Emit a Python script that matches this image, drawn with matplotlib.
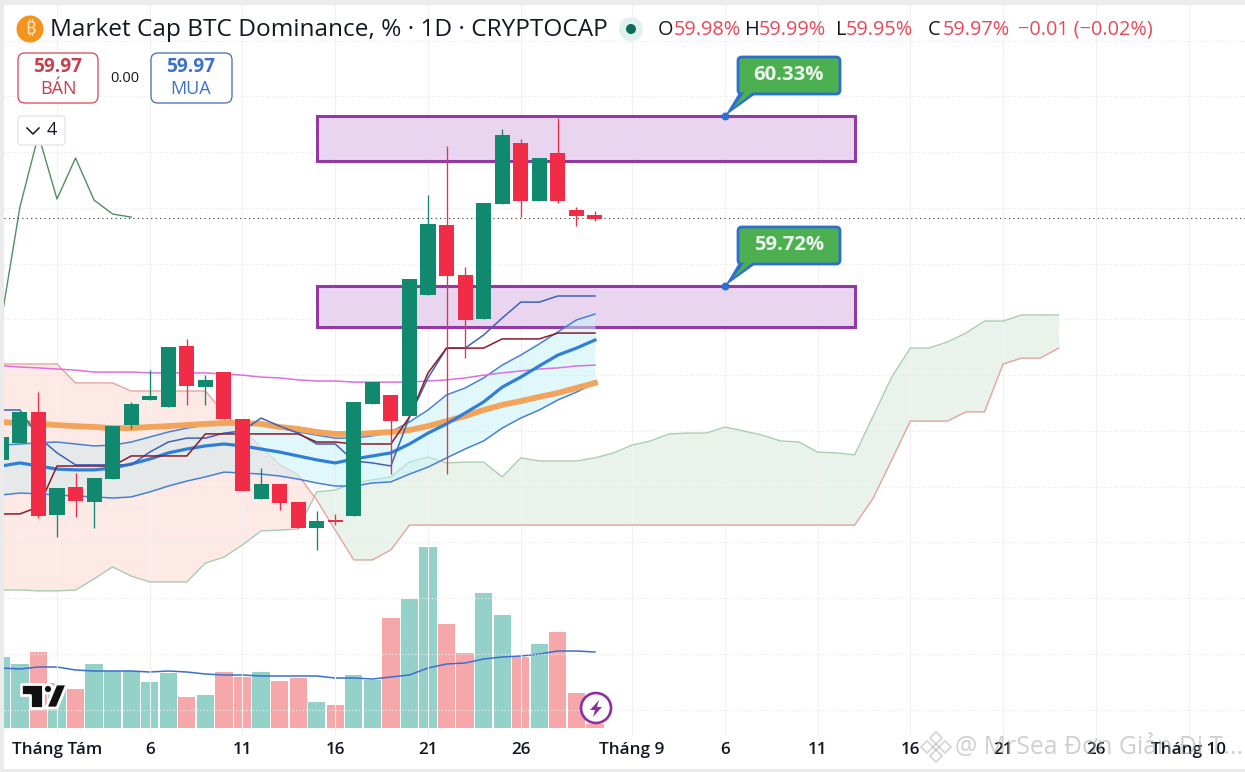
import matplotlib
matplotlib.use("Agg")
import matplotlib.pyplot as plt
from matplotlib.patches import Rectangle, FancyBboxPatch, Circle, Polygon
import numpy as np

W, H = 1245, 772
plt.rcParams["font.family"] = ["Open Sans", "DejaVu Sans"]

# days are counted from 1 August (32 = 1 Sep, 62 = 1 Oct)
days = np.arange(-2, 31)
cloud_days = np.arange(-2, 56)
lag_days = np.arange(-2, 6)

opens = [59.096, 59.157, 59.268, 58.898, 58.999, 58.945, 59.027, 59.221, 59.311, 59.286, 59.505,
         59.357, 59.411, 59.243, 58.956, 59.009, 58.945, 58.852, 58.880, 58.895, 59.296, 59.329,
         59.253, 59.688, 59.939, 59.759, 59.601, 60.014, 60.233, 60.025, 60.197, 59.993, 59.975]
highs = [59.178, 59.268, 59.339, 58.995, 59.049, 59.031, 59.217, 59.304, 59.418, 59.501, 59.530,
         59.400, 59.411, 59.243, 59.067, 59.009, 58.945, 58.913, 58.902, 59.304, 59.375, 59.329,
         59.745, 60.046, 60.222, 59.788, 60.018, 60.283, 60.247, 60.179, 60.323, 60.003, 59.989]
lows = [59.096, 59.157, 58.887, 58.819, 58.891, 58.853, 59.027, 59.207, 59.311, 59.286, 59.293,
        59.293, 59.243, 58.984, 58.956, 58.916, 58.852, 58.773, 58.862, 58.895, 59.296, 59.045,
        59.253, 59.688, 59.045, 59.461, 59.601, 60.014, 59.967, 60.025, 60.018, 59.935, 59.953]
closes = [59.178, 59.268, 58.895, 58.995, 58.948, 59.031, 59.217, 59.296, 59.325, 59.501, 59.361,
          59.383, 59.243, 58.984, 59.009, 58.941, 58.852, 58.877, 58.873, 59.304, 59.375, 59.235,
          59.745, 59.942, 59.756, 59.598, 60.018, 60.262, 60.025, 60.179, 60.025, 59.971, 59.960]

volumes = [71, 64, 76, 45, 39, 64, 57, 57, 46, 55, 31, 33, 56, 51, 56, 47, 50, 26, 23, 53, 48,
           110, 129, 181, 104, 75, 135, 113, 71, 84, 96, 35, 4]
volume_ma = [60, 59, 61, 61, 58, 57, 57, 57, 56, 57, 56, 54, 53, 53, 52, 52, 52, 52, 50, 50, 49,
             51, 53, 60, 64, 65, 69, 71, 72, 74, 77, 77, 76]

bb_upper = [59.149, 59.153, 59.157, 59.160, 59.153, 59.146, 59.149, 59.160, 59.178, 59.196,
            59.210, 59.221, 59.228, 59.232, 59.225, 59.210, 59.196, 59.185, 59.174, 59.174,
            59.182, 59.196, 59.232, 59.275, 59.329, 59.354, 59.390, 59.436, 59.472, 59.512,
            59.555, 59.598, 59.619]
bb_mid = [59.074, 59.085, 59.074, 59.063, 59.060, 59.060, 59.067, 59.081, 59.099, 59.121,
          59.135, 59.146, 59.153, 59.146, 59.135, 59.124, 59.110, 59.096, 59.085, 59.099,
          59.110, 59.121, 59.153, 59.192, 59.225, 59.264, 59.304, 59.357, 59.393, 59.433,
          59.472, 59.497, 59.526]
bb_lower = [58.970, 58.977, 58.974, 58.970, 58.966, 58.963, 58.959, 58.963, 58.981, 59.002,
            59.020, 59.035, 59.052, 59.049, 59.045, 59.038, 59.027, 59.013, 59.002, 59.002,
            59.013, 59.017, 59.045, 59.070, 59.103, 59.135, 59.164, 59.210, 59.246, 59.275,
            59.311, 59.339, 59.372]
ema_slow = [59.232, 59.228, 59.225, 59.221, 59.217, 59.214, 59.210, 59.210, 59.214, 59.217,
            59.221, 59.225, 59.228, 59.228, 59.225, 59.214, 59.207, 59.196, 59.189, 59.189,
            59.192, 59.196, 59.203, 59.217, 59.235, 59.253, 59.275, 59.293, 59.307, 59.322,
            59.336, 59.354, 59.372]
ma_long = [59.434, 59.429, 59.426, 59.422, 59.418, 59.411, 59.411, 59.411, 59.408, 59.408,
           59.408, 59.408, 59.404, 59.400, 59.393, 59.390, 59.383, 59.379, 59.379, 59.375,
           59.375, 59.375, 59.375, 59.379, 59.383, 59.390, 59.400, 59.408, 59.415, 59.422,
           59.426, 59.433, 59.436]
tenkan = [59.275, 59.275, 59.178, 59.121, 59.078, 59.078, 59.078, 59.078, 59.124, 59.160,
          59.174, 59.174, 59.192, 59.200, 59.246, 59.217, 59.192, 59.153, 59.153, 59.092,
          59.085, 59.074, 59.250, 59.390, 59.497, 59.497, 59.544, 59.605, 59.662, 59.662,
          59.684, 59.684, 59.684]
kijun = [58.902, 58.902, 58.927, 59.074, 59.074, 59.074, 59.074, 59.110, 59.110, 59.110,
         59.110, 59.189, 59.189, 59.189, 59.189, 59.189, 59.189, 59.160, 59.160, 59.153,
         59.153, 59.153, 59.250, 59.408, 59.497, 59.497, 59.497, 59.530, 59.530, 59.530,
         59.551, 59.551, 59.551]
lagging = [59.598, 60.003, 60.262, 60.032, 60.179, 60.028, 59.978, 59.967]

span_a = [58.629, 58.629, 58.626, 58.626, 58.629, 58.669, 58.712, 58.679, 58.658, 58.658, 58.658,
          58.726, 58.747, 58.791, 58.841, 58.844, 58.848, 58.981, 58.988, 59.013, 59.024, 59.035,
          59.088, 59.106, 59.085, 59.088, 59.088, 59.035, 59.103, 59.092, 59.092, 59.092, 59.103,
          59.121, 59.149, 59.164, 59.189, 59.192, 59.192, 59.214, 59.200, 59.185, 59.164, 59.160,
          59.124, 59.121, 59.114, 59.253, 59.393, 59.497, 59.497, 59.519, 59.551, 59.594, 59.594,
          59.616, 59.616, 59.616]
span_b = ([59.440] * 4 + [59.372] * 3 + [59.343] * 5
          + [59.264, 59.203, 59.142, 59.078, 59.042, 58.952, 58.844, 58.737, 58.737, 58.773]
          + [58.862] * 25
          + [58.959, 59.096, 59.235, 59.235, 59.235, 59.268, 59.268, 59.440, 59.461, 59.461, 59.497])

zone_tops = [60.33, 59.72]
zone_bottoms = [60.169, 59.573]
zone_start, zone_end = 15, 44
callout_day = 37
last_price = 59.963

tick_days = [1, 6, 11, 16, 21, 26, 32, 37, 42, 47, 52, 57, 62]
tick_labels = ["Tháng Tám", "6", "11", "16", "21", "26", "Tháng 9", "6", "11", "16", "21", "26", "Tháng 10"]
price_grid = np.arange(58.2, 60.8, 0.2)

GREEN, RED = "#10896f", "#f12c46"
VOL_GREEN, VOL_RED = "#93d1c9", "#f6a7a9"

# linear pixel <-> value scales
def day_at(px):
    return 1 + (px - 57) / 18.55

def price_at(py):
    return 60.746 - 0.003588 * py

fig = plt.figure(figsize=(W / 100, H / 100), dpi=100, facecolor="#ebebeb")
left, right, top, bottom = 4, 1245, 5, 735
pos = [left / W, 1 - bottom / H, (right - left) / W, (bottom - top) / H]
fig.add_artist(Rectangle((left / W, 1 - 769 / H), (right - left) / W, 764 / H,
                         transform=fig.transFigure, fc="white", ec="none", zorder=-1))

# volume pane, same frame as the price pane
ax_vol = fig.add_axes(pos, facecolor="white", zorder=1)
ax_vol.set_xlim(day_at(left), day_at(right))
ax_vol.set_ylim(728 - bottom, 728 - top)
vol_colors = [VOL_GREEN if c >= o else VOL_RED for o, c in zip(opens, closes)]
ax_vol.bar(days, volumes, width=0.93, color=vol_colors, zorder=2)
ax_vol.plot(days, volume_ma, color="#3a6fd0", lw=1.1, zorder=3)
ax_vol.axis("off")

ax = fig.add_axes(pos, zorder=2)
ax.patch.set_visible(False)
ax.set_xlim(day_at(left), day_at(right))
ax.set_ylim(price_at(bottom), price_at(top))
for s in ax.spines.values():
    s.set_visible(False)
ax.set_xticks(tick_days, tick_labels)
ax.set_yticks(price_grid)
ax.tick_params(axis="y", length=0, labelleft=False)
ax.tick_params(axis="x", length=0, pad=5, labelsize=12.3, labelcolor="#131722")
for lab in ax.get_xticklabels():
    lab.set_fontweight(600)
ax.set_axisbelow(True)
ax.grid(axis="y", color="#e8e8e8", ls=":", lw=0.9)
ax.grid(axis="x", color="#f1f1f1", ls="-", lw=0.8)

# ichimoku cloud
sa, sb = np.array(span_a), np.array(span_b)
ax.fill_between(cloud_days, sa, sb, where=sb >= sa, interpolate=True, color="#fdeae7", lw=0, zorder=0.5)
ax.fill_between(cloud_days, sa, sb, where=sb <= sa, interpolate=True, color="#e9f3ec", lw=0, zorder=0.5)
ax.plot(cloud_days, span_a, color="#a9cdb3", lw=1.0, zorder=1)
ax.plot(cloud_days, span_b, color="#e7a39e", lw=1.0, zorder=1)

# supply / demand zones
for t, b in zip(zone_tops, zone_bottoms):
    ax.add_patch(Rectangle((zone_start, b), zone_end - zone_start, t - b, fc="#e8d3f0", ec="#8e2fa0",
                           lw=2.2, alpha=0.95, zorder=1.5))
    ax.scatter([callout_day], [t], s=22, color="#2d6fd0", zorder=7)

# bollinger bands: cyan on white, greyer where they lie over the red cloud
ax.fill_between(days, bb_lower, bb_upper, color="#c4f3f6", alpha=0.5, lw=0, zorder=2)
bb_up, bb_lo = np.array(bb_upper), np.array(bb_lower)
sb_here = sb[:len(days)]
ax.fill_between(days, bb_lo, np.minimum(bb_up, sb_here), where=sb_here >= bb_lo, interpolate=True,
                color="#e5e9e9", lw=0, zorder=2.1)
ax.plot(days, bb_upper, color="#4a80d4", lw=1.1, zorder=3)
ax.plot(days, bb_lower, color="#4a80d4", lw=1.1, zorder=3)
ax.plot(days, ma_long, color="#dd70dd", lw=1.1, zorder=3)
ax.plot(days, ema_slow, color="#f3a45c", lw=4.2, zorder=3)
ax.plot(days, bb_mid, color="#2f7fd8", lw=2.3, zorder=3.1)
ax.plot(days, tenkan, color="#3d62b8", lw=1.1, zorder=3.2)
ax.plot(days, kijun, color="#8b1a2b", lw=1.1, zorder=3.2)
ax.plot(lag_days, lagging, color="#4f9060", lw=1.0, zorder=3)

# candles
colors = [GREEN if c >= o else RED for o, c in zip(opens, closes)]
ax.vlines(days, lows, highs, colors=colors, lw=0.95, zorder=4)
body_low = np.minimum(opens, closes)
body_h = np.abs(np.array(closes) - np.array(opens))
ax.bar(days, body_h, bottom=body_low, width=0.81, color=colors, zorder=4.1)

ax.axhline(last_price, color="#333333", ls=(0, (1, 3)), lw=0.8, zorder=3.5)

# everything that sits on top of the chart, in pixels
ui = fig.add_axes([0, 0, 1, 1], zorder=5)
ui.set_xlim(0, W)
ui.set_ylim(H, 0)
ui.axis("off")
ui.patch.set_visible(False)

def label(x, y, s, size, color="#131722", ha="left", zorder=8, **kw):
    ui.text(x, y, s, fontsize=size, color=color, ha=ha, va="center", zorder=zorder, **kw)

def round_box(x0, y0, x1, y1, r, fc, ec, lw, z=6):
    ui.add_patch(FancyBboxPatch((x0 + r, y0 + r), x1 - x0 - 2 * r, y1 - y0 - 2 * r,
                                boxstyle=f"round,pad={r},rounding_size={r}", fc=fc, ec=ec, lw=lw, zorder=z))

# header
ui.add_patch(Circle((30, 29), 13.5, fc="#f4931e", ec="none"))
label(30, 29, "₿", 13, color="#ffe6c4", ha="center", family=["Noto Sans", "Roboto", "Liberation Sans", "Inter", "Lato"],
      fontweight="bold")
label(50, 30, "Market Cap BTC Dominance, % · 1D · CRYPTOCAP", 17.6)
ui.add_patch(Circle((631, 29), 12, fc="#e2f1ee", ec="none"))
ui.add_patch(Circle((631, 29), 5, fc="#0f6b5c", ec="none"))
ohlc_red = "#e8495a"
for x, s, c in [(658, "O", "#131722"), (674, "59.98%", ohlc_red), (745, "H", "#131722"), (759, "59.99%", ohlc_red),
                (836, "L", "#131722"), (846, "59.95%", ohlc_red), (928, "C", "#131722"), (943, "59.97%", ohlc_red),
                (1018, "−0.01 (−0.02%)", ohlc_red)]:
    label(x, 30, s, 14.3, color=c)

# buy / sell buttons
round_box(18, 53, 98, 103, 7, "white", "#d9434f", 0.9)
label(58, 67, "59.97", 13.8, color="#c8404e", ha="center", fontweight="bold")
label(58, 89, "BÁN", 13, color="#c8404e", ha="center")
label(125, 78, "0.00", 10.5, ha="center")
round_box(151, 53, 232, 103, 7, "white", "#3f6db5", 0.9)
label(191, 67, "59.97", 13.8, color="#3c72c8", ha="center", fontweight="bold")
label(191, 89, "MUA", 13, color="#3c72c8", ha="center")

# collapsed indicator list
round_box(18, 116, 65, 145, 3, "white", "#e0e0e0", 0.8)
ui.plot([27, 33, 39], [128, 134, 128], color="#131722", lw=1.1, zorder=7)
label(52, 130, "4", 13, ha="center")

# price callouts
for y0, t in zip([57, 227], zone_tops):
    tip = y0 + 59
    ui.add_patch(Polygon([(725, tip), (739, y0 + 36), (757, y0 + 36)], closed=True, fc="#2d6fd0", ec="none", zorder=6))
    ui.add_patch(Polygon([(733, tip - 8), (744, y0 + 36), (752, y0 + 36)], closed=True, fc="#4caf50", ec="none", zorder=6.2))
    round_box(738, y0, 840, y0 + 37, 4, "#4caf50", "#2d6fd0", 2.0, z=6.1)
    ui.add_patch(Rectangle((744, y0 + 33), 8, 3, fc="#4caf50", ec="none", zorder=6.3))
    label(789, y0 + 17.5, f"{t:.2f}%", 14.6, color="#eef7ee", ha="center", fontweight="bold")

# tradingview logo
halo = dict(fc="#111111", ec="white", lw=2, joinstyle="round")
ui.add_patch(Polygon([(21, 684), (43, 684), (43, 708), (30, 708), (30, 695), (21, 695)], closed=True, zorder=6, **halo))
ui.add_patch(Circle((48, 689), 4.5, zorder=6, **halo))
ui.add_patch(Polygon([(56, 684), (67, 684), (57, 708), (46, 708)], closed=True, zorder=6, **halo))

# lightning badge
ui.add_patch(Circle((596, 708), 15, fc="white", ec="#8e2fa0", lw=1.9, zorder=6))
ui.add_patch(Polygon([(599, 700), (590, 710), (595, 710), (593, 717), (602, 707), (597, 707)], closed=True,
                     fc="#8e2fa0", ec="none", zorder=7))

# watermark, drawn under the tick labels' weight
wm = "#a8a8a8"
for cx, cy, r in [(936, 738, 6), (927, 747, 6), (945, 747, 6), (936, 756, 6), (936, 747, 3)]:
    ui.add_patch(Polygon([(cx, cy - r), (cx + r, cy), (cx, cy + r), (cx - r, cy)], closed=True,
                         fc="none", ec=wm, lw=1.2, alpha=0.5, zorder=8))
label(955, 747, "@ MrSea Đơn Giản Đi T...", 17.9, color=wm, alpha=0.55)

fig.savefig("out.png", dpi=100, facecolor=fig.get_facecolor())
